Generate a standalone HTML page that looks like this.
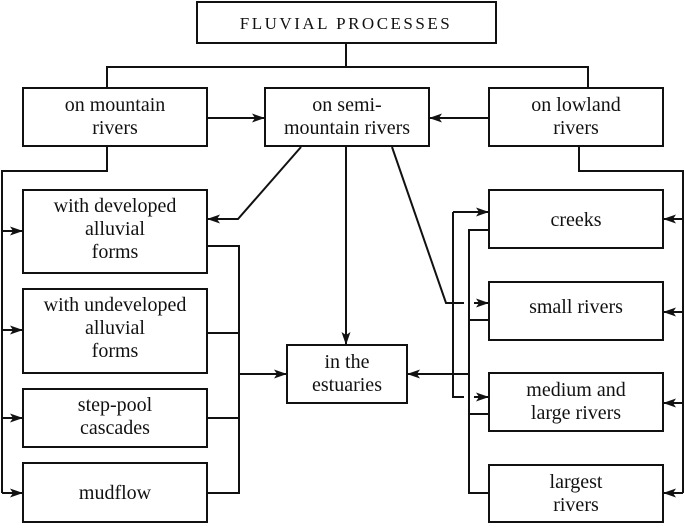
<!DOCTYPE html>
<html><head><meta charset="utf-8"><style>
body{margin:0;background:#fff}
svg text{font-family:"Liberation Serif",serif;font-size:20px;fill:#111;text-anchor:middle}
</style></head><body>
<svg width="685" height="525" viewBox="0 0 685 525" xmlns="http://www.w3.org/2000/svg">
<defs><marker id="a" markerWidth="13" markerHeight="9" refX="13" refY="4.5" orient="auto" markerUnits="userSpaceOnUse"><path d="M0,0 L13,4.5 L0,9 L3,4.5 Z" fill="#111"/></marker></defs>
<g fill="none" stroke="#111" stroke-width="2">
<rect x="197" y="2" width="299" height="41"/>
<rect x="23" y="88" width="184" height="58"/>
<rect x="265" y="88" width="164" height="58"/>
<rect x="489" y="88" width="174" height="58"/>
<rect x="23" y="190" width="184" height="83"/>
<rect x="23" y="289" width="184" height="84"/>
<rect x="23" y="389" width="184" height="58"/>
<rect x="23" y="463" width="184" height="59"/>
<rect x="287" y="345" width="120" height="58"/>
<rect x="489" y="190" width="174" height="58"/>
<rect x="489" y="282" width="174" height="58"/>
<rect x="489" y="373" width="174" height="58"/>
<rect x="489" y="465" width="174" height="57"/>
<path d="M346 43V67M107 88V67H588V88"/>
<path d="M207 118H265" marker-end="url(#a)"/>
<path d="M489 118H429" marker-end="url(#a)"/>
<path d="M107 146V171H2V493"/>
<path d="M2 231H23" marker-end="url(#a)"/>
<path d="M2 330H23" marker-end="url(#a)"/>
<path d="M2 418H23" marker-end="url(#a)"/>
<path d="M2 493H23" marker-end="url(#a)"/>
<path d="M579 146V171H683V493"/>
<path d="M683 219H663" marker-end="url(#a)"/>
<path d="M683 312H663" marker-end="url(#a)"/>
<path d="M683 403H663" marker-end="url(#a)"/>
<path d="M683 493H663" marker-end="url(#a)"/>
<path d="M301 147L238 219H207" marker-end="url(#a)"/>
<path d="M346 146V345" marker-end="url(#a)"/>
<path d="M392 147L446 303H464"/>
<path d="M474 303H489" marker-end="url(#a)"/>
<path d="M207 246H239V493H207M207 333H239M207 418H239"/>
<path d="M239 374H287" marker-end="url(#a)"/>
<path d="M489 230H469V493H489M469 320H489M469 414H489"/>
<path d="M469 374H407" marker-end="url(#a)"/>
<path d="M453 212H489" marker-end="url(#a)"/>
<path d="M453 212V397H464"/>
<path d="M474 397H489" marker-end="url(#a)"/>
</g>
<text x="346" y="29" style="font-size:17px;letter-spacing:2.5px">FLUVIAL PROCESSES</text>
<text x="115" y="111">on mountain</text><text x="115" y="134">rivers</text>
<text x="347" y="111">on semi-</text><text x="347" y="134">mountain rivers</text>
<text x="576" y="111">on lowland</text><text x="576" y="134">rivers</text>
<text x="115" y="212">with developed</text><text x="115" y="235">alluvial</text><text x="115" y="258">forms</text>
<text x="115" y="311">with undeveloped</text><text x="115" y="334">alluvial</text><text x="115" y="357">forms</text>
<text x="115" y="411">step-pool</text><text x="115" y="434">cascades</text>
<text x="115" y="499">mudflow</text>
<text x="347" y="368">in the</text><text x="347" y="391">estuaries</text>
<text x="576" y="226">creeks</text>
<text x="576" y="313">small rivers</text>
<text x="576" y="396">medium and</text><text x="576" y="419">large rivers</text>
<text x="576" y="488">largest</text><text x="576" y="511">rivers</text>
</svg>
</body></html>
